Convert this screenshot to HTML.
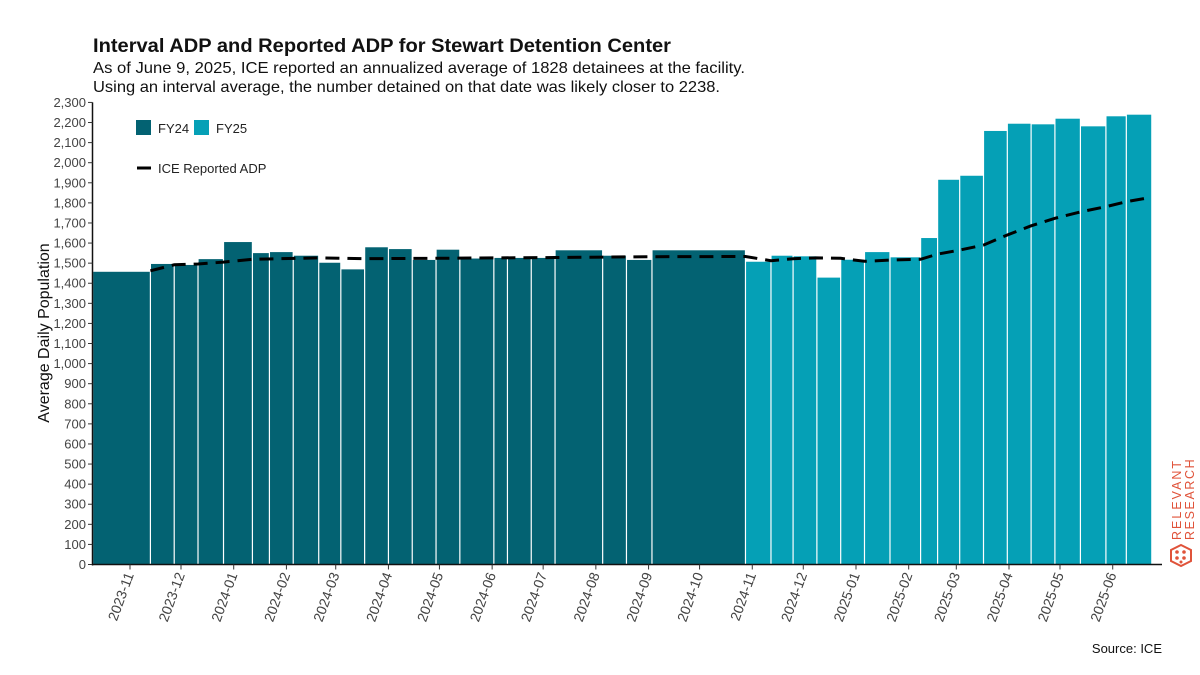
<!DOCTYPE html>
<html><head><meta charset="utf-8"><style>
html,body{margin:0;padding:0;background:#fff;width:1200px;height:675px;overflow:hidden}
svg{display:block;font-family:"Liberation Sans",sans-serif}
</style></head><body>
<svg id="chart" width="1200" height="675" viewBox="0 0 1200 675">
<text x="93" y="52" font-size="19" font-weight="bold" fill="#111" textLength="578" lengthAdjust="spacingAndGlyphs">Interval ADP and Reported ADP for Stewart Detention Center</text>
<text x="93" y="73" font-size="16" fill="#111" textLength="652" lengthAdjust="spacingAndGlyphs">As of June 9, 2025, ICE reported an annualized average of 1828 detainees at the facility.</text>
<text x="93" y="92" font-size="16" fill="#111" textLength="627" lengthAdjust="spacingAndGlyphs">Using an interval average, the number detained on that date was likely closer to 2238.</text>
<g id="bars"></g>
<g id="yaxis"></g>
<g id="xaxis"></g>
<path id="icepath" fill="none" stroke="#000" stroke-width="3" stroke-dasharray="14,8"/>
<text transform="translate(49,333) rotate(-90)" text-anchor="middle" font-size="16" fill="#111">Average Daily Population</text>
<g>
<rect x="136" y="120" width="15" height="15" fill="#036272"/>
<text x="158" y="133" font-size="13" fill="#222">FY24</text>
<rect x="194" y="120" width="15" height="15" fill="#05A0B6"/>
<text x="216" y="133" font-size="13" fill="#222">FY25</text>
<line x1="137" y1="168" x2="151" y2="168" stroke="#000" stroke-width="3"/>
<text x="158" y="173" font-size="13" fill="#222">ICE Reported ADP</text>
</g>
<text x="1162" y="653" text-anchor="end" font-size="13" fill="#111">Source: ICE</text>
<g>
<text transform="translate(1181,540) rotate(-90)" font-size="12.5" fill="#E0533A" letter-spacing="2">RELEVANT</text>
<text transform="translate(1194,540) rotate(-90)" font-size="12.5" fill="#E0533A" letter-spacing="1.6">RESEARCH</text>
<polygon points="1181,545 1191,550 1191,561 1181,566 1171,561 1171,550" fill="none" stroke="#E0533A" stroke-width="2"/>
<circle cx="1177" cy="552" r="1.8" fill="#E0533A"/><circle cx="1184" cy="552" r="1.8" fill="#E0533A"/>
<circle cx="1177" cy="558" r="1.8" fill="#E0533A"/><circle cx="1184" cy="558" r="1.8" fill="#E0533A"/><circle cx="1181" cy="562" r="1.5" fill="#E0533A"/>
</g>
</svg>
<script>
const fy24Edges = ["2023-10-10","2023-11-13","2023-11-27","2023-12-11","2023-12-26","2024-01-12","2024-01-22","2024-02-05","2024-02-20","2024-03-04","2024-03-18","2024-04-01","2024-04-15","2024-04-29","2024-05-13","2024-06-02","2024-06-10","2024-06-24","2024-07-08","2024-08-05","2024-08-19","2024-09-03","2024-10-28"];
const fy24Values = [1457,1496,1491,1520,1605,1550,1555,1537,1502,1469,1579,1570,1516,1567,1523,1526,1526,1526,1564,1537,1516,1564];
const fy25Edges = ["2024-10-28","2024-11-12","2024-11-25","2024-12-09","2024-12-23","2025-01-06","2025-01-21","2025-02-08","2025-02-18","2025-03-03","2025-03-17","2025-03-31","2025-04-14","2025-04-28","2025-05-13","2025-05-28","2025-06-09","2025-06-24"];
const fy25Values = [1507,1537,1534,1428,1517,1555,1529,1625,1915,1935,2158,2194,2191,2219,2181,2231,2239];
const iceDates = ["2023-11-13","2023-11-27","2023-12-11","2023-12-26","2024-01-12","2024-02-20","2024-03-18","2024-04-29","2024-07-08","2024-09-03","2024-10-28","2024-11-12","2024-11-25","2024-12-09","2024-12-23","2025-01-06","2025-01-21","2025-02-08","2025-02-18","2025-03-03","2025-03-17","2025-03-31","2025-04-14","2025-04-28","2025-05-13","2025-05-28","2025-06-09","2025-06-24"];
const iceValues = [1462,1492,1496,1505,1519,1526,1522,1524,1528,1532,1533,1512,1522,1526,1524,1509,1515,1519,1545,1565,1590,1640,1686,1723,1755,1781,1806,1828];
const yTicks = [0,100,200,300,400,500,600,700,800,900,1000,1100,1200,1300,1400,1500,1600,1700,1800,1900,2000,2100,2200,2300];
const xTickLabels = ["2023-11","2023-12","2024-01","2024-02","2024-03","2024-04","2024-05","2024-06","2024-07","2024-08","2024-09","2024-10","2024-11","2024-12","2025-01","2025-02","2025-03","2025-04","2025-05","2025-06"];

const NS = "http://www.w3.org/2000/svg";
const origin = Date.UTC(2023,10,1);
function days(s){const p=s.split("-").map(Number);return (Date.UTC(p[0],p[1]-1,p[2]||1)-origin)/86400000;}
function x(s){return 130 + days(s)*1.7002;}
function y(v){return 564.5 - v*0.2009;}
function mk(tag, attrs, parent){const e=document.createElementNS(NS,tag);for(const k in attrs)e.setAttribute(k,attrs[k]);parent.appendChild(e);return e;}

const barsG = document.getElementById("bars");
function drawBars(edges, vals, color, label){
  vals.forEach((v,i)=>{
    const x0=x(edges[i]), x1=x(edges[i+1]);
    const r=mk("rect",{x:x0+0.6,y:y(v),width:Math.max(0,x1-x0-1.2),height:y(0)-y(v),fill:color},barsG);
    
    
  });
}
drawBars(fy24Edges, fy24Values, "#036272", "fy24");
drawBars(fy25Edges, fy25Values, "#05A0B6", "fy25");

const ya=document.getElementById("yaxis");
const yl=mk("line",{x1:92.5,y1:y(2300),x2:92.5,y2:y(0)+1,stroke:"#111","stroke-width":1.5},ya);


yTicks.forEach(t=>{
  mk("line",{x1:88,y1:y(t),x2:92.5,y2:y(t),stroke:"#333","stroke-width":1},ya);
  const tx=mk("text",{x:86,y:y(t)+4.5,"text-anchor":"end","font-size":13,fill:"#444"},ya);
  tx.textContent=t.toLocaleString("en-US");
  
  
});

const xa=document.getElementById("xaxis");
const xl=mk("line",{x1:92,y1:y(0),x2:1162,y2:y(0),stroke:"#111","stroke-width":1.5},xa);


xTickLabels.forEach(t=>{
  const px=x(t+"-01");
  mk("line",{x1:px,y1:y(0),x2:px,y2:y(0)+5,stroke:"#333","stroke-width":1},xa);
  const tx=mk("text",{transform:"translate("+(px+4)+","+(y(0)+10)+") rotate(-70)","text-anchor":"end","font-size":14,fill:"#444"},xa);
  tx.textContent=t;
  
  
});

document.getElementById("icepath").setAttribute("d", iceDates.map((d,i)=>(i?"L":"M")+x(d).toFixed(1)+","+y(iceValues[i]).toFixed(1)).join(" "));
</script>
</body></html>
